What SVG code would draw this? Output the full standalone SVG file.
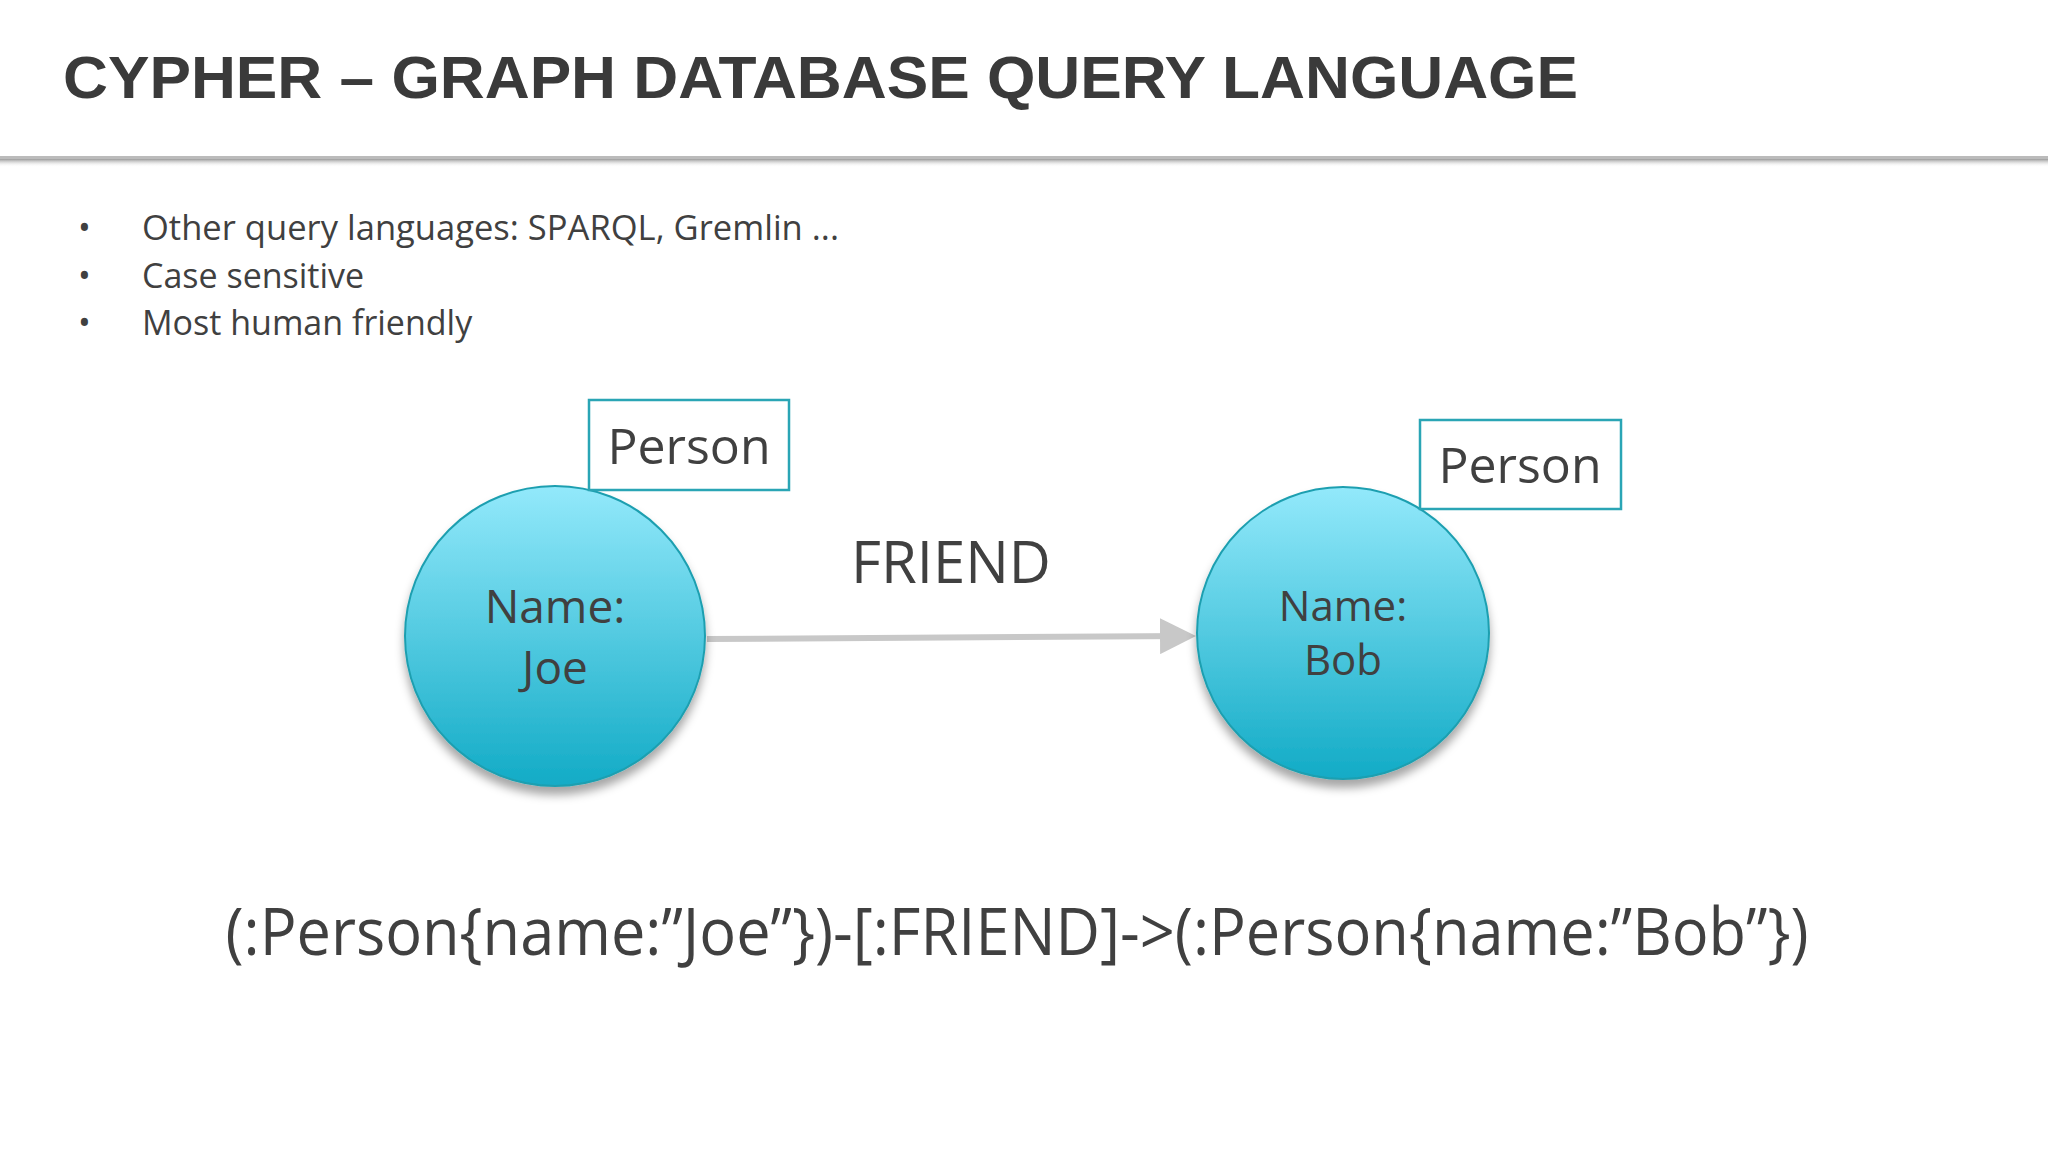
<svg xmlns="http://www.w3.org/2000/svg" width="2048" height="1152" viewBox="0 0 2048 1152">
<defs>
<style>
.t{font-family:"Open Sans","Noto Sans","Liberation Sans",sans-serif;fill:#404040}
.box{fill:#fff;stroke:#2aa5b5;stroke-width:2.5}
.c{stroke:#1e9fb0;stroke-width:2;fill:url(#g)}
</style>
<linearGradient id="g" x1="0" y1="0" x2="0" y2="1">
<stop offset="0" stop-color="#93e9fb"/><stop offset="1" stop-color="#12abc6"/>
</linearGradient>
<linearGradient id="hs" x1="0" y1="0" x2="0" y2="1">
<stop offset="0" stop-color="#999"/><stop offset="1" stop-color="#fff" stop-opacity="0"/>
</linearGradient>
<filter id="sh" x="-20%" y="-20%" width="140%" height="150%"><feDropShadow dx="0" dy="8" stdDeviation="5" flood-color="#000" flood-opacity="0.35"/></filter>
<marker id="ah" markerWidth="6" markerHeight="6" refX="5" refY="3" orient="auto"><path d="M0,0 L6,3 L0,6 Z" fill="#c8c8c8"/></marker>
</defs>
<rect width="2048" height="1152" fill="#fff"/>
<rect x="0" y="156" width="2048" height="3" fill="#bbb"/>
<rect x="0" y="159" width="2048" height="8" fill="url(#hs)"/>
<text x="63" y="98" font-family="Liberation Sans,Arial,sans-serif" font-weight="bold" font-size="60" fill="#3a3a3a" textLength="1515" lengthAdjust="spacingAndGlyphs">CYPHER – GRAPH DATABASE QUERY LANGUAGE</text>
<g class="t" font-size="34">
<text x="78" y="240">•</text><text x="142" y="240" textLength="697" lengthAdjust="spacingAndGlyphs">Other query languages: SPARQL, Gremlin ...</text>
<text x="78" y="288">•</text><text x="142" y="288">Case sensitive</text>
<text x="78" y="335">•</text><text x="142" y="335">Most human friendly</text>
</g>
<g id="connectors">
<line x1="707" y1="639" x2="1190" y2="636" stroke="#c8c8c8" stroke-width="6" marker-end="url(#ah)"/>
<text class="t" x="951" y="583" font-size="58" text-anchor="middle">FRIEND</text>
</g>
<g id="joe">
<circle class="c" cx="555" cy="636" r="150" filter="url(#sh)"/>
<text class="t" x="555" y="623" font-size="46" text-anchor="middle" fill="#333">Name:</text>
<text class="t" x="555" y="684" font-size="46" text-anchor="middle" fill="#333">Joe</text>
</g>
<g id="bob">
<circle class="c" cx="1343" cy="633" r="146" filter="url(#sh)"/>
<text class="t" x="1343" y="621" font-size="42" text-anchor="middle" fill="#333">Name:</text>
<text class="t" x="1343" y="675" font-size="42" text-anchor="middle" fill="#333">Bob</text>
</g>
<g id="label1">
<rect class="box" x="589" y="400" width="200" height="90"/>
<text class="t" x="689" y="464" font-size="50" text-anchor="middle">Person</text>
</g>
<g id="label2">
<rect class="box" x="1420" y="420" width="201" height="89"/>
<text class="t" x="1520" y="483" font-size="50" text-anchor="middle">Person</text>
</g>
<text class="t" x="1017" y="955" font-size="66" text-anchor="middle" textLength="1583" lengthAdjust="spacingAndGlyphs">(:Person{name:”Joe”})-[:FRIEND]-&gt;(:Person{name:”Bob”})</text>
</svg>
